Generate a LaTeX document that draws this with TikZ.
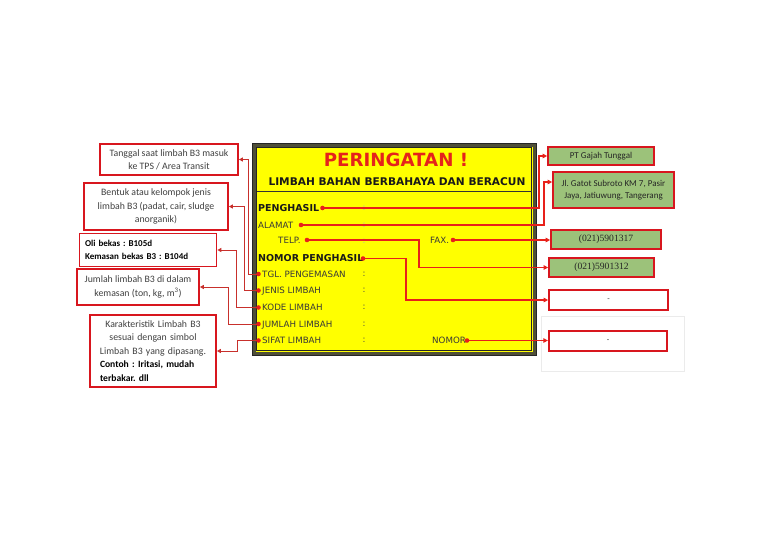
\documentclass[tikz,border=0pt]{standalone}
\usepackage{fontspec}
\setmainfont{Carlito}
\newfontfamily\verd{DejaVu Sans}
\newfontfamily\tms{Liberation Serif}
\usetikzlibrary{arrows.meta,calc}
\definecolor{bred}{HTML}{D8161E}
\definecolor{lred}{HTML}{C8302C}
\definecolor{cred}{HTML}{E8201A}
\definecolor{ttl}{HTML}{E5231B}
\definecolor{gfill}{HTML}{9CC27A}
\definecolor{pyellow}{HTML}{FFFF00}
\definecolor{pframe}{HTML}{4F4F38}
\definecolor{ltxt}{HTML}{404040}
\frenchspacing
\begin{document}
\begin{tikzpicture}[x=1pt,y=-1pt,
  lbl/.style={anchor=west, inner sep=0pt, text height=6.4pt, text depth=0pt,
    font=\verd\fontsize{8.7}{10}\selectfont, text=black!78},
  lblb/.style={lbl, font=\verd\bfseries\fontsize{9.5}{10}\selectfont, text=black!90},
  colon/.style={inner sep=0pt, font=\verd\fontsize{8.6}{10}\selectfont, text=black!70},
  fcolon/.style={colon, text=black!30},
  lbox/.style={draw=bred, line width=1.7pt, fill=white, inner sep=3pt, align=center,
    font=\frenchspacing\fontsize{9.8}{13.2}\selectfont, text=ltxt},
  gbox/.style={draw=bred, line width=1.7pt, fill=gfill, inner sep=2pt, align=center,
    font=\fontsize{9}{12.5}\selectfont, text=black!85},
  wbox/.style={draw=bred, line width=1.7pt, fill=white, inner sep=2pt, align=center,
    font=\fontsize{8}{10}\selectfont, text=black!80},
  lconn/.style={draw=lred, line width=0.9pt, -{Triangle[length=4pt,width=4pt]}},
  rconn/.style={draw=cred, line width=1.2pt, -{Triangle[length=4.5pt,width=4.5pt]}},
  dot/.style={fill=cred}
]
\useasboundingbox (0,0) rectangle (768,544);
\fill[white] (0,0) rectangle (768,544);

% faint frame behind last box
\draw[black!8, line width=0.8pt, fill=white] (541,316) rectangle (684,371);

% ---------- yellow panel ----------
\filldraw[fill=pframe, draw=black!85, line width=0.8pt] (252,143) rectangle (536,355);
\fill[pyellow] (255.5,146.5) rectangle (532.5,351.5);
\draw[black!85, line width=0.7pt] (256.5,147.5) rectangle (531.5,350.5);
\draw[black!80, line width=1pt] (256.5,191) -- (531.5,191);

\node[inner sep=0pt, font=\verd\bfseries\fontsize{18.2}{20}\selectfont, text=ttl]
  (title) at (396,160) {PERINGATAN !};
\node[inner sep=0pt, font=\verd\bfseries\fontsize{10.6}{12}\selectfont, text=black!90]
  (sub) at (397,182) {LIMBAH BAHAN BERBAHAYA DAN BERACUN};

\node[lblb] (lPeng) at (258,208) {PENGHASIL};
\node[lbl]  (lAlamat) at (258,225) {ALAMAT};
\node[lbl]  (lTelp) at (278,240) {TELP.};
\node[lblb] (lNP) at (258,258) {NOMOR PENGHASIL};
\node[lbl]  (lTgl) at (262,274) {TGL. PENGEMASAN};
\node[lbl]  (lJenis) at (262,290.5) {JENIS LIMBAH};
\node[lbl]  (lKode) at (262,307.5) {KODE LIMBAH};
\node[lbl]  (lJumlah) at (262,324) {JUMLAH LIMBAH};
\node[lbl]  (lSifat) at (262,340.5) {SIFAT LIMBAH};
\node[lbl]  (lFax) at (430,240) {FAX.};
\node[lbl]  (lNomor) at (432,340.5) {NOMOR};

\node[fcolon] (c1) at (364,208) {:};
\node[fcolon] (c2) at (364,225) {:};
\node[fcolon] (c3) at (364,241) {:};
\node[colon] (c4) at (364,274) {:};
\node[colon] (c5) at (364,290.5) {:};
\node[colon] (c6) at (364,307.5) {:};
\node[colon] (c7) at (364,324) {:};
\node[colon] (c8) at (364,340.5) {:};

% dot positions
\coordinate (dPeng) at (322.5,208);
\coordinate (dAlamat) at (301,225);
\coordinate (dTelp) at (307,240);
\coordinate (dNP) at (363,258.5);
\coordinate (dFax) at (453,240);
\coordinate (dNomor) at (467,340.5);
\coordinate (dTgl) at (258.5,274);
\coordinate (dJenis) at (258.5,290.5);
\coordinate (dKode) at (258.5,307.5);
\coordinate (dJumlah) at (258.5,324);
\coordinate (dSifat) at (258.5,340.5);

% vertical routing lines
\coordinate (vTgl) at (248,0);
\coordinate (vJenis) at (244,0);
\coordinate (vKode) at (236,0);
\coordinate (vJumlah) at (228,0);
\coordinate (vSifat) at (237,0);
\coordinate (vPeng) at (539,0);
\coordinate (vAlamat) at (544,0);
\coordinate (vTelp) at (419,0);
\coordinate (vNP) at (406,0);

% ---------- left boxes ----------
\node[lbox, minimum width=138pt, minimum height=31pt] (b1) at (169,159.5)
  {Tanggal saat limbah B3 masuk\\ke TPS / Area Transit};
\node[lbox, minimum width=144pt, minimum height=47pt] (b2) at (156,206.5)
  {Bentuk atau kelompok jenis\\limbah B3 (padat, cair, sludge\\anorganik)};
\node[lbox, minimum width=137pt, minimum height=33pt, text width=126pt, align=left,
  text=black, font=\frenchspacing\bfseries\fontsize{9}{12.5}\selectfont] (b3) at (148,250)
  {Oli bekas : B105d\\Kemasan bekas B3 : B104d};
\node[lbox, minimum width=122pt, minimum height=36pt] (b4) at (138,287)
  {Jumlah limbah B3 di dalam\\kemasan (ton, kg, m\textsuperscript{3})};
\node[lbox, minimum width=126pt, minimum height=72pt, text width=118pt, align=left] (b5) at (153,351)
  {\centering Karakteristik Limbah B3\\sesuai dengan simbol\\Limbah B3 yang dipasang.\par
   \raggedright\color{black}\bfseries\fontsize{9.6}{13.5}\selectfont\hspace*{6pt}Contoh : Iritasi, mudah\\\hspace*{6pt}terbakar. dll\par};

% ---------- right boxes ----------
\node[gbox, minimum width=106pt, minimum height=18pt] (g1) at (601,156) {PT Gajah Tunggal};
\node[gbox, minimum width=121pt, minimum height=36pt] (g2) at (613.5,190)
  {Jl. Gatot Subroto KM 7, Pasir\\Jaya, Jatiuwung, Tangerang};
\node[gbox, minimum width=110pt, minimum height=19pt, font=\tms\fontsize{9.6}{10}\selectfont] (g3) at (606,239.5) {(021)5901317};
\node[gbox, minimum width=105pt, minimum height=19pt, font=\tms\fontsize{9.6}{10}\selectfont] (g4) at (601.5,267.5) {(021)5901312};
\node[wbox, minimum width=119pt, minimum height=20pt] (w1) at (608.5,300) {-};
\node[wbox, line width=2.3pt, minimum width=118pt, minimum height=20pt] (w2) at (608,341) {-};

% ---------- connectors ----------
\draw[lconn] (dTgl) -- (dTgl -| vTgl) |- (b1.east);
\draw[lconn] (dJenis) -- (dJenis -| vJenis) |- (b2.east);
\draw[lconn] (dKode) -- (dKode -| vKode) |- (b3.east);
\draw[lconn] (dJumlah) -- (dJumlah -| vJumlah) |- (b4.east);
\draw[lconn] (dSifat) -- (dSifat -| vSifat) |- (b5.east);

\draw[rconn] (dPeng) -- (dPeng -| vPeng) |- (g1.west);
\coordinate (g2in) at ($(g2.west)+(0,-8)$);
\draw[rconn] (dAlamat) -- (dAlamat -| vAlamat) |- (g2in);
\draw[rconn] (dFax) -- (dFax -| g3.west);
\draw[rconn] (dTelp) -- (dTelp -| vTelp) |- (g4.west);
\draw[rconn] (dNP) -- (dNP -| vNP) |- (w1.west);
\draw[rconn] (dNomor) -- (dNomor -| w2.west);

\foreach \d in {dPeng,dAlamat,dTelp,dNP,dFax,dNomor,dTgl,dJenis,dKode,dJumlah,dSifat}
  \fill[dot] (\d) circle (2.3);
\end{tikzpicture}
\end{document}
